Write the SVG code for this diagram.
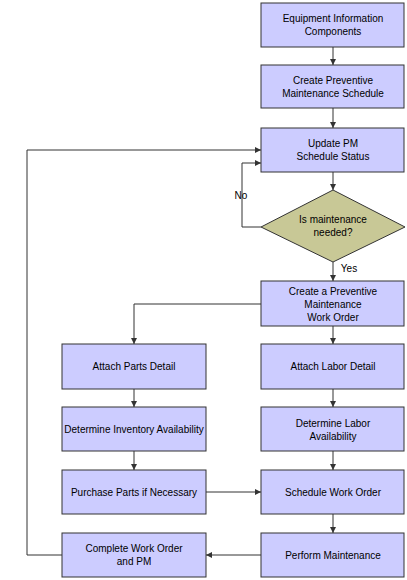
<svg xmlns="http://www.w3.org/2000/svg" width="407" height="580" viewBox="0 0 407 580">
<style>
.box{fill:#ccccff;stroke:#333333;stroke-width:1}
.dia{fill:#c8c896;stroke:#333333;stroke-width:1}
.t{font-family:"Liberation Sans",Arial,sans-serif;font-size:10px;fill:#000;text-anchor:middle}
.c{fill:none;stroke:#333333;stroke-width:1}
</style>
<defs>
<marker id="ah" markerWidth="8" markerHeight="8" refX="6" refY="3" orient="auto" markerUnits="userSpaceOnUse">
<path d="M0,0 L6,3 L0,6 Z" fill="#333333"/>
</marker>
</defs>
<rect width="407" height="580" fill="#ffffff"/>
<g id="connectors">
<path class="c" d="M333,47 V65" marker-end="url(#ah)"/>
<path class="c" d="M333,108 V128" marker-end="url(#ah)"/>
<path class="c" d="M333,172 V190" marker-end="url(#ah)"/>
<path class="c" d="M261,227 H242 V163 H261" marker-end="url(#ah)"/>
<path class="c" d="M333,262 V281" marker-end="url(#ah)"/>
<path class="c" d="M261,304 H134 V344" marker-end="url(#ah)"/>
<path class="c" d="M333,326 V344" marker-end="url(#ah)"/>
<path class="c" d="M134,389 V407" marker-end="url(#ah)"/>
<path class="c" d="M333,389 V407" marker-end="url(#ah)"/>
<path class="c" d="M134,451 V470" marker-end="url(#ah)"/>
<path class="c" d="M333,451 V470" marker-end="url(#ah)"/>
<path class="c" d="M206,492 H261" marker-end="url(#ah)"/>
<path class="c" d="M333,514 V533" marker-end="url(#ah)"/>
<path class="c" d="M261,555 H206" marker-end="url(#ah)"/>
<path class="c" d="M62,555 H27 V150 H261" marker-end="url(#ah)"/>
<text class="t" x="241" y="199">No</text>
<text class="t" x="349" y="272">Yes</text>
</g>
<g id="n1"><rect class="box" x="261" y="3" width="143" height="44"/><text class="t" x="333" y="22">Equipment Information</text><text class="t" x="333" y="35">Components</text></g>
<g id="n2"><rect class="box" x="261" y="65" width="143" height="43"/><text class="t" x="333" y="84">Create Preventive</text><text class="t" x="333" y="97">Maintenance Schedule</text></g>
<g id="n3"><rect class="box" x="261" y="128" width="143" height="44"/><text class="t" x="333" y="147">Update PM</text><text class="t" x="333" y="160">Schedule Status</text></g>
<g id="n4"><polygon class="dia" points="333,190 405,227 333,262 261,227"/><text class="t" x="333" y="223">Is maintenance</text><text class="t" x="333" y="236">needed?</text></g>
<g id="n5"><rect class="box" x="261" y="281" width="143" height="45"/><text class="t" x="333" y="295">Create a Preventive</text><text class="t" x="333" y="308">Maintenance</text><text class="t" x="333" y="321">Work Order</text></g>
<g id="n6"><rect class="box" x="62" y="344" width="144" height="45"/><text class="t" x="134" y="370">Attach Parts Detail</text></g>
<g id="n7"><rect class="box" x="261" y="344" width="143" height="45"/><text class="t" x="333" y="370">Attach Labor Detail</text></g>
<g id="n8"><rect class="box" x="62" y="407" width="144" height="44"/><text class="t" x="134" y="433">Determine Inventory Availability</text></g>
<g id="n9"><rect class="box" x="261" y="407" width="143" height="44"/><text class="t" x="333" y="427">Determine Labor</text><text class="t" x="333" y="440">Availability</text></g>
<g id="n10"><rect class="box" x="62" y="470" width="144" height="44"/><text class="t" x="134" y="496">Purchase Parts if Necessary</text></g>
<g id="n11"><rect class="box" x="261" y="470" width="143" height="44"/><text class="t" x="333" y="496">Schedule Work Order</text></g>
<g id="n12"><rect class="box" x="62" y="533" width="144" height="44"/><text class="t" x="134" y="552">Complete Work Order</text><text class="t" x="134" y="565">and PM</text></g>
<g id="n13"><rect class="box" x="261" y="533" width="143" height="44"/><text class="t" x="333" y="559">Perform Maintenance</text></g>
</svg>
